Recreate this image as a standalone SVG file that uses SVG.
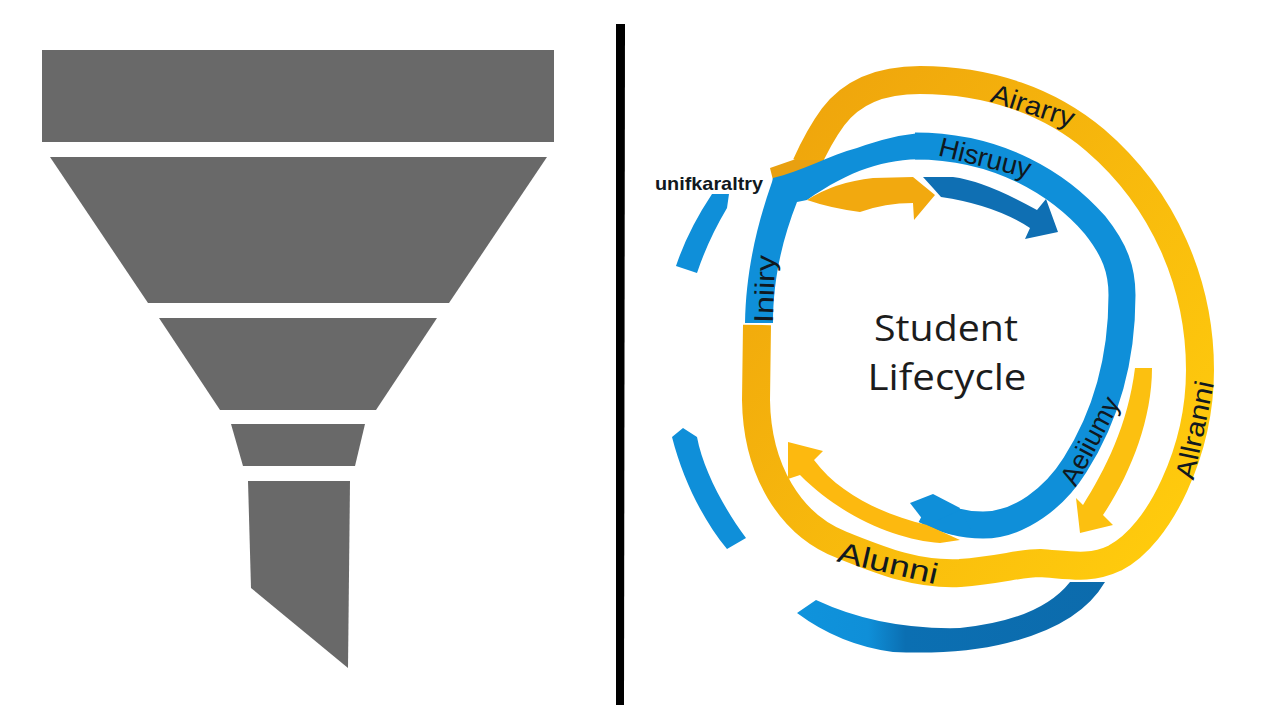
<svg xmlns="http://www.w3.org/2000/svg" width="1280" height="720" viewBox="0 0 1280 720">
<style>
.seg{fill:#696969}
.band{fill:none;stroke-linejoin:round}
.lbl{font-family:"Liberation Sans",Arial,sans-serif;fill:#101820;text-anchor:middle;font-size:27px}
.title{font-family:"Open Sans","Noto Sans",sans-serif;font-size:37px;fill:#1c1c1c;text-anchor:middle}
</style>
<defs>
<linearGradient id="gy" gradientUnits="userSpaceOnUse" x1="760" y1="150" x2="1200" y2="500"><stop offset="0" stop-color="#EFA50C"/><stop offset="1" stop-color="#FFCB0D"/></linearGradient>
<linearGradient id="gb" gradientUnits="userSpaceOnUse" x1="800" y1="0" x2="1110" y2="0"><stop offset="0" stop-color="#0F93DC"/><stop offset="0.22" stop-color="#0F8FD8"/><stop offset="0.34" stop-color="#0B6FB2"/><stop offset="1" stop-color="#0C6BAC"/></linearGradient>
</defs>
<rect width="1280" height="720" fill="#fff"/>
<g id="funnel">
<polygon id="funnel-1" class="seg" points="42,50 554,50 554,142 42,142"/>
<polygon id="funnel-2" class="seg" points="50,157 547,157 449,303 148,303"/>
<polygon id="funnel-3" class="seg" points="159,318 437,318 376,410 220,410"/>
<polygon id="funnel-4" class="seg" points="231,424 365,424 355,466 243,466"/>
<polygon id="funnel-5" class="seg" points="248,481 350,481 348,668 251,588"/>
</g>
<polygon id="divider" points="616,24 625,24 624,705 616,705" fill="#000"/>
<g id="connectors">
<path id="ring-yellow" class="band" stroke="url(#gy)" stroke-width="28" d="M757,325 L756,400 C757,470 790,525 842,545 C880,560 915,575 960,573 C1000,570 1020,563 1040,563 C1070,565 1090,570 1115,558 C1160,535 1200,450 1200,370 C1200,285 1165,200 1095,140 C1050,102 990,80 920,80 C880,80 852,92 833,117 C822,132 815,145 806,165"/>
<polygon id="ring-yellow-tip" fill="#E9A010" points="770,168 793,160 822,160 790,178 773,180"/>
<path id="ring-blue" class="band" stroke="#0F8FD9" stroke-width="27" d="M915,146 C1000,146 1060,185 1095,225 C1115,250 1122,270 1122,295 C1122,350 1110,410 1075,465 C1055,497 1020,525 983,525 C960,525 940,518 925,510"/>
<path id="ring-blue-left" fill="#0F8FD9" d="M745,323 C746,270 757,225 772,182 L773,178 C800,172 830,155 857,148 C880,140 900,134 925,133 L925,159 C885,159 850,170 807,200 L797,202 C782,240 773,280 773,323 Z"/>
<polygon id="ring-blue-end" fill="#0F8FD9" points="910,503 933,494 960,508 950,530 927,525"/>
<path id="arc-left-upper" fill="#0F8FD9" d="M712,194 L729,194 L727,208 Q708,240 697,273 L676,266 Q688,230 712,194 Z"/>
<path id="arc-left-lower" fill="#0F8FD9" d="M672,437 L683,428 L697,437 C703,470 725,510 746,538 L727,549 C703,520 683,480 672,437 Z"/>
<path id="arc-bottom" fill="url(#gb)" d="M797,613 L816,600 Q880,630 960,628 Q1040,620 1070,582 L1105,582 Q1080,625 1007,643 Q960,655 893,652 Q840,645 797,613 Z"/>
<path id="arrow-orange" fill="#F2A90F" d="M807,200 Q835,182 873,178 L913,177 L935,195 L914,220 L913,203 Q885,203 860,212 Q830,208 807,200 Z"/>
<path id="arrow-dark" fill="#0F6FB3" d="M923,177 L953,177 Q985,181 1037,210 L1046,199 L1058,232 L1025,239 L1030,228 Q995,205 941,197 L933,188 Z"/>
<path id="arrow-right" fill="#FCC010" d="M1135,368 L1152,368 C1152,420 1130,475 1103,515 L1113,525 L1080,533 L1076,498 L1083,505 C1105,470 1128,425 1135,368 Z"/>
<path id="arrow-bottom" fill="#FDB90F" d="M960,540 L940,543 C900,540 845,520 800,475 L788,479 L788,442 L823,451 L814,460 C840,495 885,515 927,525 Z"/>
<polygon id="ring-blue-end-top" fill="#0F8FD9" points="927,525 960,510 975,537 950,534"/>
</g>
<g id="labels">
<text class="lbl" transform="translate(1033,106) rotate(18)" dy="9" textLength="86" lengthAdjust="spacingAndGlyphs">Airarry</text>
<text class="lbl" transform="translate(985,158) rotate(14)" dy="9" textLength="94" lengthAdjust="spacingAndGlyphs">Hisruuy</text>
<text class="lbl" transform="translate(765,289) rotate(-88)" dy="9" textLength="68" lengthAdjust="spacingAndGlyphs">Iniiry</text>
<text class="lbl" transform="translate(1090,441) rotate(-62)" dy="9" textLength="96" lengthAdjust="spacingAndGlyphs">Aeiiumy</text>
<text class="lbl" transform="translate(1195,430) rotate(-78)" dy="9" textLength="100" lengthAdjust="spacingAndGlyphs">Allranni</text>
<text class="lbl" transform="translate(888,563) rotate(13)" dy="10" textLength="102" lengthAdjust="spacingAndGlyphs" style="font-size:29px">Alunni</text>
<text class="lbl" x="709" y="190" textLength="108" lengthAdjust="spacingAndGlyphs" style="font-size:19px;font-weight:700">unifkaraltry</text>
</g>
<g id="center"><text class="title" x="946" y="341" textLength="144" lengthAdjust="spacingAndGlyphs">Student</text><text class="title" x="947" y="390" textLength="159" lengthAdjust="spacingAndGlyphs">Lifecycle</text></g>
</svg>
